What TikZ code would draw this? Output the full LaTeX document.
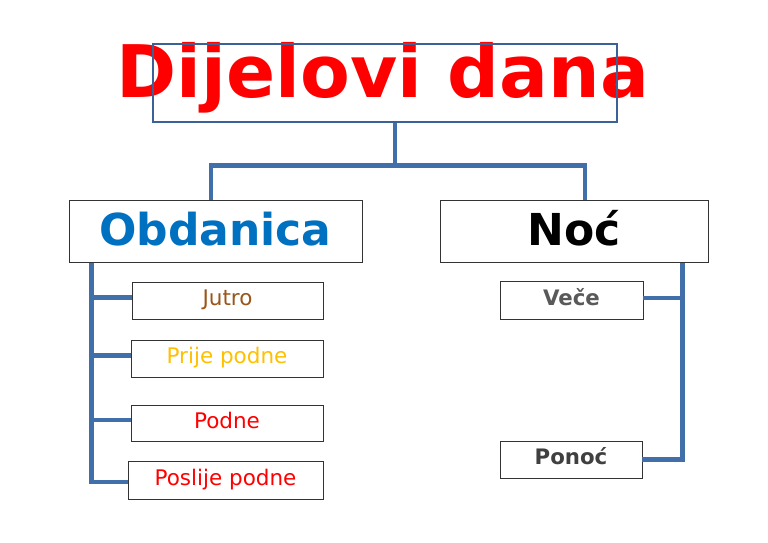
\documentclass[tikz,border=0pt]{standalone}
\usepackage{fontspec}
\setmainfont{DejaVu Sans}
\usetikzlibrary{calc}
\definecolor{connblue}{HTML}{416FAA}
\definecolor{titleedge}{HTML}{3A6198}
\definecolor{boxedge}{HTML}{333333}
\definecolor{jutrocol}{HTML}{9A5518}
\definecolor{prijecol}{HTML}{FFC000}
\definecolor{obdcol}{HTML}{0070C0}
\definecolor{vececol}{HTML}{595959}
\definecolor{ponoccol}{HTML}{404040}
\begin{document}
\begin{tikzpicture}[x=1pt,y=1pt,
  conn/.style={draw=connblue,line width=4.5pt},
  titlebox/.style={draw=titleedge,line width=1.5pt,rectangle,inner sep=0pt,minimum width=464pt,minimum height=78pt},
  titletext/.style={inner sep=0pt,anchor=base,text=red,font=\bfseries\fontsize{72.5}{80}\selectfont},
  bigbox/.style={draw=boxedge,line width=1pt,fill=white,rectangle,inner sep=0pt,minimum height=62pt,
    text height=32pt,text depth=4pt,font=\bfseries\fontsize{44}{50}\selectfont},
  smallbox/.style={draw=boxedge,line width=0.8pt,fill=white,rectangle,inner sep=0pt,
    text height=18pt,text depth=8pt,font=\fontsize{21.5}{25}\selectfont},
  boldbox/.style={draw=boxedge,line width=0.8pt,fill=white,rectangle,inner sep=0pt,
    text height=16pt,text depth=6pt,font=\bfseries\fontsize{21.3}{25}\selectfont}
]
\useasboundingbox[fill=white] (0,0) rectangle (768,-543);

% title (text first, box border drawn over it)
\coordinate (tc) at (385,-83);
\node[titletext] (titletext) at ([xshift=-2pt,yshift=-14pt]tc) {Dijelovi dana};
\node[titlebox] (title) at (tc) {};

% main boxes
\node[bigbox,minimum width=293pt,text=obdcol] (obd) at (215.5,-231) {Obdanica};
\node[bigbox,minimum width=268pt,text=black] (noc) at (574,-231) {Noć};

% left children
\node[smallbox,minimum width=191pt,minimum height=37pt,text=jutrocol] (jutro) at (227.5,-300.5) {Jutro};
\node[smallbox,minimum width=192pt,minimum height=37pt,text=prijecol] (prije) at (227,-358.5) {Prije podne};
\node[smallbox,minimum width=192pt,minimum height=36pt,text=red] (podne) at (227,-423) {Podne};
\node[smallbox,minimum width=195pt,minimum height=38pt,text=red] (poslije) at (225.5,-480) {Poslije podne};

% right children
\node[boldbox,minimum width=143pt,minimum height=38pt,text=vececol] (vece) at (571.5,-300) {Veče};
\node[boldbox,minimum width=142pt,minimum height=37pt,text=ponoccol] (ponoc) at (571,-459.5) {Ponoć};

% connectors from title
\draw[conn] ([xshift=10pt]title.south) -- ++(0,-44);
\draw[conn] ([xshift=-4.5pt]obd.north) -- ++(0,34) -| ([xshift=11pt]noc.north);

% left trunk
\coordinate (ltop) at ([xshift=23pt]obd.south west);
\draw[conn] (ltop) |- ([yshift=-2pt]poslije.west);
\draw[conn] ([yshift=3pt]jutro.west) -- ([yshift=3pt]jutro.west -| ltop);
\draw[conn] ([yshift=3pt]prije.west) -- ([yshift=3pt]prije.west -| ltop);
\draw[conn] ([yshift=3pt]podne.west) -- ([yshift=3pt]podne.west -| ltop);

% right trunk
\coordinate (rtop) at ([xshift=-26pt]noc.south east);
\draw[conn] (rtop) |- (ponoc.east);
\draw[conn] ([yshift=2pt]vece.east) -- ([yshift=2pt]vece.east -| rtop);
\end{tikzpicture}
\end{document}
